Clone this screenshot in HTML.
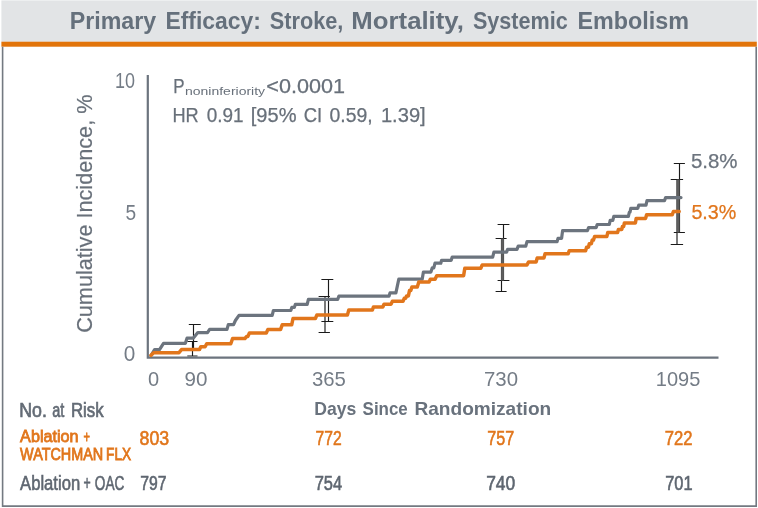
<!DOCTYPE html>
<html><head><meta charset="utf-8"><title>Primary Efficacy</title>
<style>
html,body{margin:0;padding:0;background:#fff;}
body{width:758px;height:508px;overflow:hidden;}
svg{display:block;font-family:"Liberation Sans",sans-serif;}
</style></head><body>
<svg width="758" height="508" viewBox="0 0 758 508">
<rect x="0" y="0" width="758" height="508" fill="#ffffff"/>
<rect x="1.4" y="0.4" width="755.4" height="41.4" fill="#e2e4e6"/>
<rect x="1.4" y="41.7" width="755.4" height="5" fill="#e2740a"/>
<path d="M2.6,46.7V506.1H756.2V46.7" fill="none" stroke="#737981" stroke-width="1.6"/>
<g fill="none" stroke="#1a1a1a" stroke-width="1.15"><path d="M193.5,324.5V349.8M188.8,324.5H200.7M188.8,349.8H200.7"/><path d="M192.5,341.5V356.0M187.3,341.5H197.5M187.3,356.0H197.5"/><path d="M328.5,279.5V321.5M321.4,279.5H333.3M321.4,321.5H333.3"/><path d="M325.0,296.5V332.5M318.6,296.5H329.9M318.6,332.5H329.9"/><path d="M503.5,224.5V280.5M497.6,224.5H509.4M497.6,280.5H509.4"/><path d="M501.5,238.5V291.5M495.6,238.5H506.6M495.6,291.5H506.6"/><path d="M679.5,163.5V232.5M673.8,163.5H684.9M673.8,232.5H684.9"/><path d="M677.0,179.5V244.5M670.7,179.5H683.1M670.7,244.5H683.1"/></g>
<g fill="none" stroke="#5e5e5e" stroke-width="2.8"><path d="M502.5,238.5V280.5"/><path d="M678.2,179.5V232.5"/></g>
<path d="M147.8,75V357.7H718.5" fill="none" stroke="#6c747e" stroke-width="2.2"/>
<polyline points="151,355.5 154.6,349.6 159.5,349.6 163.5,343.3 185.4,343.3 187,338.2 193.2,338.2 197.8,332.6 207.5,332.6 209.6,329.4 227,329.4 228.3,324.6 233.6,324.6 235.4,320.5 239,315.3 272.2,315.3 273.4,310.5 290.8,310.5 291.8,307.4 294.3,307.4 295.3,304.4 307.2,304.4 308.4,299.3 337.7,299.3 338.9,296.2 389,296.2 390,292.9 395.9,292.9 398.8,279.2 422.2,279.2 423.4,272.1 430.9,272.1 432.3,267.8 433.8,267.8 435,263.2 440.8,263.2 441.6,260.3 451.2,260.3 452.2,257.1 492.7,257.1 493.9,252.1 506.6,252.1 507.6,249.4 517,249.4 518.2,246.1 525.8,246.1 527,241.7 557.1,241.7 558,238.3 561.6,238.3 562.6,230.6 587.4,230.6 588.6,227.6 596.2,227.6 597.2,224.5 609.3,224.5 610.2,220.3 612.8,220.3 613.8,216.4 628.4,216.4 629.3,212.3 630,212.3 630.8,208.3 637.8,208.3 638.8,205.1 646,205.1 647,200.6 664.5,200.6 665.6,197.6 681,197.6" fill="none" stroke="#6c747e" stroke-width="3.2" stroke-linejoin="round" stroke-linecap="round"/>
<polyline points="151,355.3 153.7,352.7 179,352.7 181.5,349.6 199.5,349.6 200.8,346.8 205.1,346.8 206.7,343.7 230.8,343.7 232.6,338.5 244.9,338.5 246.5,336.6 247.8,336.6 249.4,333 266.3,333 267.8,329.6 280.5,329.6 282.2,324.8 291.7,324.8 293,318.5 315.4,318.5 316.8,315.1 347.4,315.1 348.8,310 372.4,310 373.4,307 382.8,307 384,304.2 391.1,304.2 392.3,301.3 403,301.3 404.2,298.3 405.6,298.3 406.6,295.9 408.4,295.9 409.5,290.6 410.8,290.6 411.9,287 417.3,287 418.8,282 429.1,282 430.3,279.3 435.1,279.3 436.7,275.8 463.6,275.8 464.8,268.2 480.8,268.2 482.2,264.9 527,264.9 528.6,261.9 536.2,261.9 537.2,257.9 544,257.9 545,253.8 568.2,253.8 569.2,250.8 585.6,250.8 586.6,247.2 588.5,247.2 589.3,243.7 591.4,243.7 592.2,240.1 593.4,240.1 594.6,236.6 606.8,236.6 607.8,232.5 617.6,232.5 618.4,229.5 621.8,229.5 622.4,226.6 623.6,226.6 624.4,223 635.4,223 636.2,218.4 645.6,218.4 646.6,214.8 672.2,214.8 673.4,211.5 679.2,211.5" fill="none" stroke="#e1761c" stroke-width="3.5" stroke-linejoin="round" stroke-linecap="round"/>
<text y="28.5" font-size="23.3" font-weight="700" fill="#65707c"><tspan x="69.70" textLength="86.45" lengthAdjust="spacingAndGlyphs">Primary</tspan> <tspan x="165.42" textLength="95.51" lengthAdjust="spacingAndGlyphs">Efficacy:</tspan> <tspan x="269.80" textLength="73.57" lengthAdjust="spacingAndGlyphs">Stroke,</tspan> <tspan x="351.39" textLength="112.53" lengthAdjust="spacingAndGlyphs">Mortality,</tspan> <tspan x="472.90" textLength="94.86" lengthAdjust="spacingAndGlyphs">Systemic</tspan> <tspan x="577.40" textLength="111.52" lengthAdjust="spacingAndGlyphs">Embolism</tspan></text>
<text y="88.0" font-size="21.3" font-weight="400" fill="#747c86"><tspan x="115.06" textLength="20.01" lengthAdjust="spacingAndGlyphs">10</tspan></text>
<text y="220.4" font-size="21.3" font-weight="400" fill="#747c86"><tspan x="125.60" textLength="10.66" lengthAdjust="spacingAndGlyphs">5</tspan></text>
<text y="360.5" font-size="21.3" font-weight="400" fill="#747c86"><tspan x="123.80" textLength="11.55" lengthAdjust="spacingAndGlyphs">0</tspan></text>
<text y="93.3" font-size="20.1" font-weight="400" fill="#68707a" stroke="#68707a" stroke-width="0.25"><tspan x="173.26" textLength="11.28" lengthAdjust="spacingAndGlyphs">P</tspan></text>
<text y="94.6" font-size="11.8" font-weight="400" fill="#68707a"><tspan x="185.00" textLength="80.08" lengthAdjust="spacingAndGlyphs">noninferiority</tspan></text>
<text y="93.3" font-size="20.1" font-weight="400" fill="#68707a" stroke="#68707a" stroke-width="0.25"><tspan x="266.30" textLength="78.69" lengthAdjust="spacingAndGlyphs">&lt;0.0001</tspan></text>
<text y="121.5" font-size="20.1" font-weight="400" fill="#68707a" stroke="#68707a" stroke-width="0.25"><tspan x="172.49" textLength="26.27" lengthAdjust="spacingAndGlyphs">HR</tspan> <tspan x="206.70" textLength="36.87" lengthAdjust="spacingAndGlyphs">0.91</tspan> <tspan x="250.80" textLength="45.66" lengthAdjust="spacingAndGlyphs">[95%</tspan> <tspan x="303.68" textLength="18.47" lengthAdjust="spacingAndGlyphs">CI</tspan> <tspan x="329.50" textLength="43.23" lengthAdjust="spacingAndGlyphs">0.59,</tspan> <tspan x="380.90" textLength="44.79" lengthAdjust="spacingAndGlyphs">1.39]</tspan></text>
<text y="168.0" font-size="20.5" font-weight="400" fill="#6c747e" stroke="#6c747e" stroke-width="0.25"><tspan x="690.90" textLength="46.63" lengthAdjust="spacingAndGlyphs">5.8%</tspan></text>
<text y="218.8" font-size="20.5" font-weight="400" fill="#e1761c" stroke="#e1761c" stroke-width="0.25"><tspan x="691.40" textLength="44.92" lengthAdjust="spacingAndGlyphs">5.3%</tspan></text>
<text y="386.1" font-size="20.4" font-weight="400" fill="#747c86"><tspan x="148.00" textLength="11.13" lengthAdjust="spacingAndGlyphs">0</tspan></text>
<text y="386.1" font-size="20.4" font-weight="400" fill="#747c86"><tspan x="184.60" textLength="22.94" lengthAdjust="spacingAndGlyphs">90</tspan></text>
<text y="386.1" font-size="20.4" font-weight="400" fill="#747c86"><tspan x="312.00" textLength="33.94" lengthAdjust="spacingAndGlyphs">365</tspan></text>
<text y="386.1" font-size="20.4" font-weight="400" fill="#747c86"><tspan x="484.00" textLength="34.04" lengthAdjust="spacingAndGlyphs">730</tspan></text>
<text y="386.1" font-size="20.4" font-weight="400" fill="#747c86"><tspan x="655.82" textLength="44.52" lengthAdjust="spacingAndGlyphs">1095</tspan></text>
<text y="415.3" font-size="17.8" font-weight="700" fill="#69727d"><tspan x="314.31" textLength="42.08" lengthAdjust="spacingAndGlyphs">Days</tspan> <tspan x="362.60" textLength="45.19" lengthAdjust="spacingAndGlyphs">Since</tspan> <tspan x="414.43" textLength="136.80" lengthAdjust="spacingAndGlyphs">Randomization</tspan></text>
<text y="417.0" font-size="20.4" font-weight="400" fill="#636b75" stroke="#636b75" stroke-width="0.7"><tspan x="19.23" textLength="27.62" lengthAdjust="spacingAndGlyphs">No.</tspan> <tspan x="52.20" textLength="12.06" lengthAdjust="spacingAndGlyphs">at</tspan> <tspan x="70.88" textLength="32.66" lengthAdjust="spacingAndGlyphs">Risk</tspan></text>
<text y="442.2" font-size="16.5" font-weight="400" fill="#e1761c" stroke="#e1761c" stroke-width="0.8"><tspan x="20.10" textLength="58.47" lengthAdjust="spacingAndGlyphs">Ablation</tspan> <tspan x="83.60" textLength="6.42" lengthAdjust="spacingAndGlyphs">+</tspan></text>
<text y="460.0" font-size="16.5" font-weight="400" fill="#e1761c" stroke="#e1761c" stroke-width="0.8"><tspan x="20.10" textLength="83.10" lengthAdjust="spacingAndGlyphs">WATCHMAN</tspan> <tspan x="106.07" textLength="25.03" lengthAdjust="spacingAndGlyphs">FLX</tspan></text>
<text y="489.6" font-size="20.3" font-weight="400" fill="#5e6670" stroke="#5e6670" stroke-width="0.6"><tspan x="20.10" textLength="60.05" lengthAdjust="spacingAndGlyphs">Ablation</tspan> <tspan x="83.60" textLength="7.21" lengthAdjust="spacingAndGlyphs">+</tspan> <tspan x="94.80" textLength="29.53" lengthAdjust="spacingAndGlyphs">OAC</tspan></text>
<text y="444.6" font-size="20.3" font-weight="400" fill="#e1761c" stroke="#e1761c" stroke-width="0.6"><tspan x="139.50" textLength="29.64" lengthAdjust="spacingAndGlyphs">803</tspan></text>
<text y="444.6" font-size="20.3" font-weight="400" fill="#e1761c" stroke="#e1761c" stroke-width="0.6"><tspan x="315.53" textLength="26.09" lengthAdjust="spacingAndGlyphs">772</tspan></text>
<text y="444.6" font-size="20.3" font-weight="400" fill="#e1761c" stroke="#e1761c" stroke-width="0.6"><tspan x="487.20" textLength="26.92" lengthAdjust="spacingAndGlyphs">757</tspan></text>
<text y="444.6" font-size="20.3" font-weight="400" fill="#e1761c" stroke="#e1761c" stroke-width="0.6"><tspan x="664.78" textLength="27.75" lengthAdjust="spacingAndGlyphs">722</tspan></text>
<text y="489.6" font-size="20.3" font-weight="400" fill="#5e6670" stroke="#5e6670" stroke-width="0.6"><tspan x="140.22" textLength="26.29" lengthAdjust="spacingAndGlyphs">797</tspan></text>
<text y="489.6" font-size="20.3" font-weight="400" fill="#5e6670" stroke="#5e6670" stroke-width="0.6"><tspan x="314.69" textLength="27.54" lengthAdjust="spacingAndGlyphs">754</tspan></text>
<text y="489.6" font-size="20.3" font-weight="400" fill="#5e6670" stroke="#5e6670" stroke-width="0.6"><tspan x="486.14" textLength="29.10" lengthAdjust="spacingAndGlyphs">740</tspan></text>
<text y="489.6" font-size="20.3" font-weight="400" fill="#5e6670" stroke="#5e6670" stroke-width="0.6"><tspan x="665.19" textLength="27.33" lengthAdjust="spacingAndGlyphs">701</tspan></text>
<text transform="translate(91.8,331.8) rotate(-90)" x="-1.01" font-size="21.5" fill="#68707a" stroke="#68707a" stroke-width="0.2" textLength="238.22" lengthAdjust="spacingAndGlyphs">Cumulative Incidence, %</text>
</svg>
</body></html>
